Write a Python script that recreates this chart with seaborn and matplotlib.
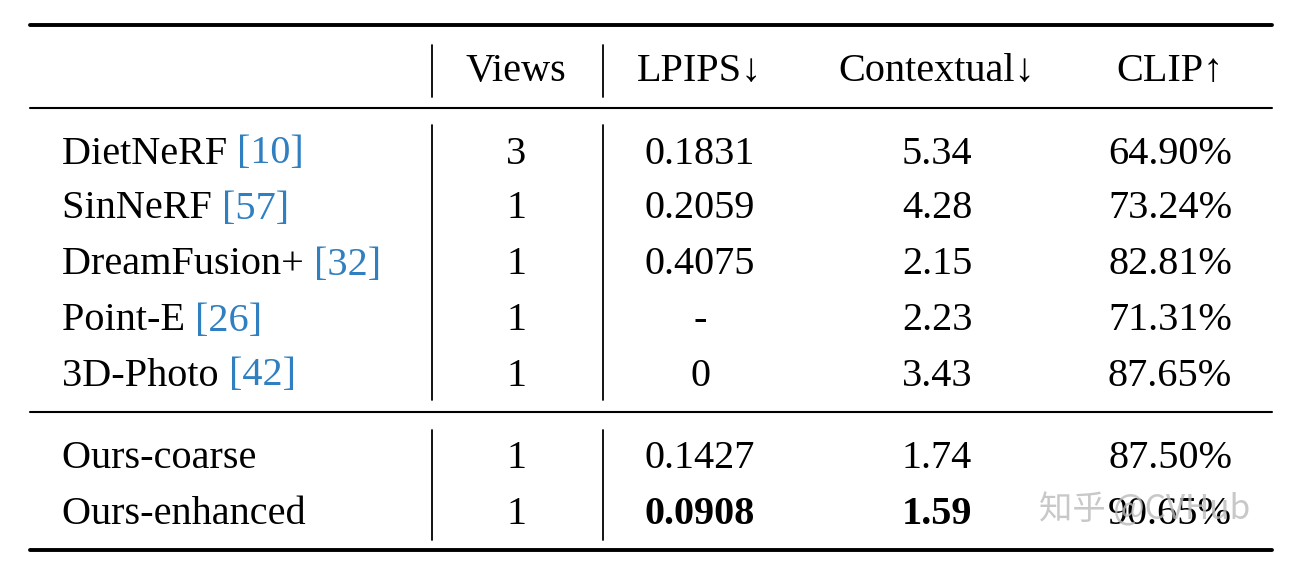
import matplotlib
matplotlib.use("Agg")
import matplotlib.pyplot as plt
import seaborn as sns

headers = ["Views", "LPIPS↓", "Contextual↓", "CLIP↑"]
methods = ["DietNeRF", "SinNeRF", "DreamFusion+", "Point-E", "3D-Photo", "Ours-coarse", "Ours-enhanced"]
cites = ["[10]", "[57]", "[32]", "[26]", "[42]", "", ""]
views = ["3", "1", "1", "1", "1", "1", "1"]
lpips = ["0.1831", "0.2059", "0.4075", "-", "0", "0.1427", "0.0908"]
contextual = ["5.34", "4.28", "2.15", "2.23", "3.43", "1.74", "1.59"]
clip = ["64.90%", "73.24%", "82.81%", "71.31%", "87.65%", "87.50%", "90.65%"]
bold_row = 6

sns.set_theme(style="white")
plt.rcParams['font.family'] = ['Liberation Serif', 'Noto Sans CJK SC', 'DejaVu Sans']
plt.rcParams['text.color'] = 'black'

fig = plt.figure(figsize=(13.03, 5.65), dpi=100)
ax = fig.add_axes([0, 0, 1, 1])
ax.set_xlim(0, 1303)
ax.set_ylim(565, 0)
ax.axis("off")

fs = 29
blue = "#2f7fc1"
ax.plot([30, 1272], [25, 25], color="black", lw=2.8)
ax.plot([30, 1272], [108, 108], color="black", lw=1.5)
ax.plot([30, 1272], [412, 412], color="black", lw=1.5)
ax.plot([30, 1272], [550, 550], color="black", lw=2.8)
for x in (432, 603):
    for y0, y1 in ((45, 97), (125, 400), (430, 540)):
        ax.plot([x, x], [y0, y1], color="black", lw=1.3)

colx = [516, 700, 937, 1170]
dy = 4
for h, x in zip(headers, colx):
    ax.text(x, 68 + dy, h, ha="center", va="center", fontsize=fs, color="black",
            family=['Liberation Serif', 'DejaVu Sans'])

rows_y = [150, 205, 261, 317, 372, 455, 510]
fig.canvas.draw()
r = fig.canvas.get_renderer()
for i, y in enumerate(rows_y):
    t = ax.text(62, y + dy, methods[i] + " ", ha="left", va="center", fontsize=fs, color="black")
    if cites[i]:
        bb = t.get_window_extent(r)
        xe = ax.transData.inverted().transform((bb.x1, bb.y0))[0]
        ax.text(xe, y + dy, cites[i], ha="left", va="center", fontsize=fs, color=blue)
    vals = [views[i], lpips[i], contextual[i], clip[i]]
    for j, (v, x) in enumerate(zip(vals, colx)):
        w = "bold" if (i == bold_row and j in (1, 2)) else "normal"
        ax.text(x, y + dy, v, ha="center", va="center", fontsize=fs, fontweight=w, color="black")

ax.text(1145, 510, "知乎 @CVHub", ha="center", va="center", fontsize=24, color="#bbbbbb", alpha=0.8,
        family=['Noto Sans CJK SC', 'DejaVu Sans'])

fig.savefig("out.png", dpi=100)
